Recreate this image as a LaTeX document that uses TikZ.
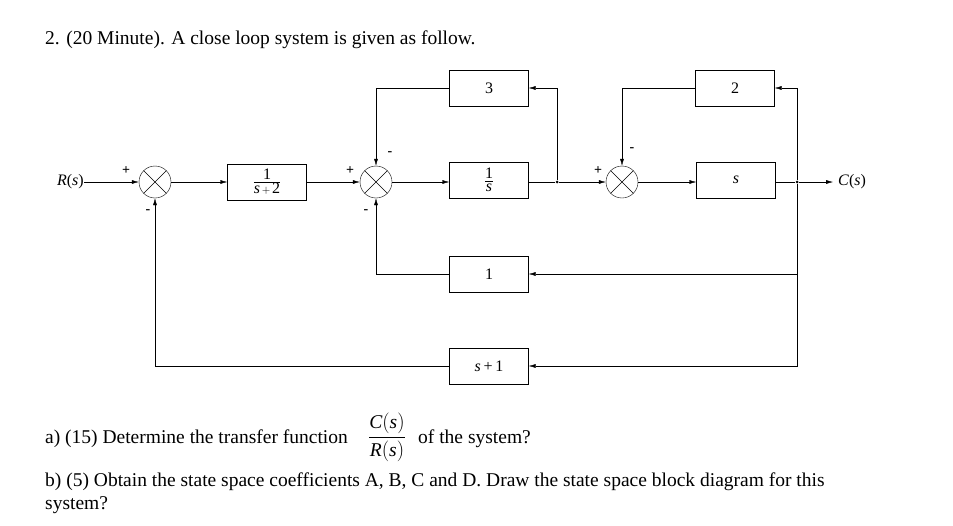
\documentclass[tikz,border=0pt]{standalone}
\usepackage{fontspec}
\setmainfont{Liberation Serif}
\usetikzlibrary{arrows.meta}
\newcommand{\ti}[1]{\textit{#1}}
\newcommand{\tr}[1]{\textrm{#1}}
\begin{document}
\begin{tikzpicture}[x=1pt,y=-1pt,
 blk/.style={draw,minimum width=79pt,minimum height=36pt,inner sep=0pt,font=\fontsize{16}{18}\selectfont},
 sum/.style={draw,circle,minimum size=32pt,inner sep=0pt,path picture={\draw (path picture bounding box.north west)--(path picture bounding box.south east) (path picture bounding box.north east)--(path picture bounding box.south west);}},
 ar/.style={-{Latex[length=7pt,width=4pt]}},
 sg/.style={font=\fontsize{14}{14}\selectfont\bfseries,inner sep=0pt},
 dot/.style={circle,fill,inner sep=0pt,minimum size=3pt},
 txt/.style={anchor=base west,inner sep=0pt,font=\fontsize{19.5}{22}\selectfont}]
\useasboundingbox (0,0) rectangle (953,525);
\node[txt] (title) at (45,44) {2. (20 Minute). A close loop system is given as follow.};
\node[anchor=east,inner sep=0pt,font=\fontsize{16}{18}\selectfont] (R) at (84,182) {\ti{R}(\ti{s})};
\node[sum] (s1) at (155,182) {};
\node[blk] (g1) at (267,182) {$\frac{\tr{1}}{\ti{s}\,+\,\tr{2}}$};
\node[sum] (s2) at (376,182) {};
\node[blk] (b3) at (489,88) {3};
\node[blk] (bi) at (489,180) {$\frac{\tr{1}}{\ti{s}}$};
\node[blk] (b1) at (489,274) {1};
\node[blk] (bs1) at (489,366) {\ti{s}\,+\,1};
\node[sum] (s3) at (622,182) {};
\node[blk] (b2) at (735,88) {2};
\node[blk] (bs) at (736,180) {\ti{s}};
\node[dot] (j1) at (557,182) {};
\node[dot] (j2) at (797,182) {};
\coordinate (cend) at (833,182);
\node[anchor=west,inner sep=0pt,font=\fontsize{16}{18}\selectfont] (C) at (838,182) {\ti{C}(\ti{s})};
\draw[ar] (R) -- (s1);
\draw[ar] (s1) -- (g1);
\draw[ar] (g1) -- (s2);
\draw[ar] (s2) -- (bi.west|-s2);
\draw (bi.east|-s2) -- (j1);
\draw[ar] (j1) -- (s3);
\draw[ar] (j1) |- (b3.east);
\draw[ar] (b3.west) -| (s2.north);
\draw[ar] (s3) -- (bs.west|-s3);
\draw (bs.east|-s3) -- (j2);
\draw[ar] (j2) -- (cend);
\draw[ar] (j2) |- (b2.east);
\draw[ar] (b2.west) -| (s3.north);
\draw[ar] (j2) |- (b1.east);
\draw[ar] (j2) |- (bs1.east);
\draw[ar] (b1.west) -| (s2.south);
\draw[ar] (bs1.west) -| (s1.south);
\node[sg] at (126,171) {+};
\node[sg] at (148,212) {-};
\node[sg] at (350,171) {+};
\node[sg] at (366,212) {-};
\node[sg] at (390,154) {-};
\node[sg] at (598,171) {+};
\node[sg] at (632,150) {-};
\node[txt] (qa) at (45,443) {a) (15) Determine the transfer function};
\node[inner sep=0pt,font=\fontsize{19.5}{22}\selectfont] (fr) at (387,437) {$\displaystyle\frac{\ti{C}(\ti{s})}{\ti{R}(\ti{s})}$};
\node[txt] (qa2) at (418,443) {of the system?};
\node[txt] (qb) at (45,486) {b) (5) Obtain the state space coefficients A, B, C and D. Draw the state space block diagram for this};
\node[txt] (qb2) at (45,509) {system?};
\end{tikzpicture}
\end{document}
